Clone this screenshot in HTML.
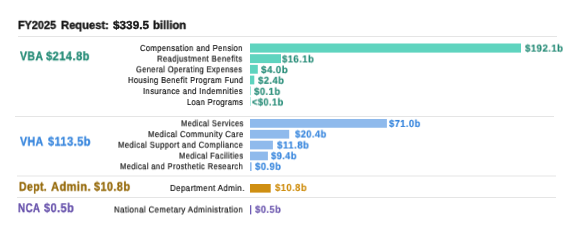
<!DOCTYPE html>
<html><head><meta charset="utf-8"><style>
html,body{margin:0;padding:0;background:#fff;width:575px;height:240px;overflow:hidden;position:relative}
.t{position:absolute;white-space:nowrap;transform-origin:0 0;line-height:1;will-change:transform;text-rendering:geometricPrecision;font-family:"Liberation Sans",sans-serif}
.b{position:absolute}
.s{position:absolute;height:1px;background:#e5e5e5}
</style></head><body>

<svg width="575" height="240" style="position:absolute;left:0;top:0"><rect x="18.00" y="36.00" width="539.00" height="1" fill="#e5e5e5"/><rect x="15.00" y="116.00" width="539.00" height="1" fill="#e5e5e5"/><rect x="17.00" y="175.50" width="539.00" height="1" fill="#e5e5e5"/><rect x="17.00" y="197.00" width="539.00" height="1" fill="#e5e5e5"/><rect x="250.00" y="43.50" width="271.00" height="9.10" fill="#5fd4bf"/><rect x="250.00" y="54.20" width="31.00" height="8.90" fill="#5fd4bf"/><rect x="250.00" y="64.85" width="7.80" height="8.85" fill="#5fd4bf"/><rect x="250.00" y="75.60" width="4.30" height="8.80" fill="#5fd4bf"/><rect x="250.00" y="86.40" width="0.60" height="8.80" fill="#5fd4bf"/><rect x="250.00" y="97.10" width="0.45" height="8.80" fill="#5fd4bf"/><rect x="250.00" y="119.00" width="136.90" height="8.75" fill="#8fbaec"/><rect x="250.00" y="129.85" width="39.20" height="8.75" fill="#8fbaec"/><rect x="250.00" y="140.70" width="22.90" height="8.70" fill="#8fbaec"/><rect x="250.00" y="151.60" width="17.90" height="8.70" fill="#8fbaec"/><rect x="250.00" y="162.30" width="1.60" height="8.70" fill="#8fbaec"/><rect x="250.00" y="184.00" width="20.70" height="8.60" fill="#cf8f12"/><rect x="250.00" y="205.20" width="1.30" height="9.20" fill="#6f5cb5"/></svg>
<div class="t" style="left:18.40px;top:19px;font-size:11.63px;font-weight:700;color:#161616;transform:matrix(0.93547,0,0,1.0000,0,0.900);-webkit-text-stroke:0.350px #161616;">FY2025</div>
<div class="t" style="left:60.90px;top:19px;font-size:11.63px;font-weight:700;color:#161616;transform:matrix(0.96275,0,0,1.0000,0,0.900);-webkit-text-stroke:0.350px #161616;">Request:</div>
<div class="t" style="left:112.70px;top:19px;font-size:11.63px;font-weight:700;color:#161616;transform:matrix(1.01472,0,0,1.0000,0,0.900);-webkit-text-stroke:0.350px #161616;">$339.5</div>
<div class="t" style="left:153.10px;top:19px;font-size:11.63px;font-weight:700;color:#161616;transform:matrix(0.97258,0,0,1.0000,0,0.900);-webkit-text-stroke:0.350px #161616;">billion</div>
<div class="t" style="left:19.90px;top:50px;font-size:12.35px;font-weight:700;color:#238a75;transform:matrix(0.84593,0,0,1.0000,0,0.200);letter-spacing:0.500px;-webkit-text-stroke:0.300px #238a75;">VBA</div>
<div class="t" style="left:45.60px;top:50px;font-size:12.35px;font-weight:700;color:#238a75;transform:matrix(0.89832,0,0,1.0000,0,0.200);letter-spacing:0.500px;-webkit-text-stroke:0.300px #238a75;">$214.8b</div>
<div class="t" style="left:20.30px;top:135px;font-size:12.65px;font-weight:700;color:#3383dc;transform:matrix(0.83742,0,0,1.0000,0,0.600);letter-spacing:0.500px;-webkit-text-stroke:0.300px #3383dc;">VHA</div>
<div class="t" style="left:47.70px;top:135px;font-size:12.65px;font-weight:700;color:#3383dc;transform:matrix(0.87033,0,0,1.0000,0,0.600);letter-spacing:0.500px;-webkit-text-stroke:0.300px #3383dc;">$113.5b</div>
<div class="t" style="left:18.70px;top:180px;font-size:12.65px;font-weight:700;color:#946808;transform:matrix(0.82379,0,0,1.0000,0,0.700);letter-spacing:0.500px;-webkit-text-stroke:0.300px #946808;">Dept.</div>
<div class="t" style="left:50.50px;top:180px;font-size:12.65px;font-weight:700;color:#946808;transform:matrix(0.87501,0,0,1.0000,0,0.700);letter-spacing:0.500px;-webkit-text-stroke:0.300px #946808;">Admin.</div>
<div class="t" style="left:94.40px;top:180px;font-size:12.65px;font-weight:700;color:#946808;transform:matrix(0.85961,0,0,1.0000,0,0.700);letter-spacing:0.500px;-webkit-text-stroke:0.300px #946808;">$10.8b</div>
<div class="t" style="left:18.40px;top:202px;font-size:12.65px;font-weight:700;color:#6853ac;transform:matrix(0.77431,0,0,1.0000,0,0.100);letter-spacing:0.500px;-webkit-text-stroke:0.300px #6853ac;">NCA</div>
<div class="t" style="left:44.40px;top:202px;font-size:12.65px;font-weight:700;color:#6853ac;transform:matrix(0.87055,0,0,1.0000,0,0.100);letter-spacing:0.500px;-webkit-text-stroke:0.300px #6853ac;">$0.5b</div>
<div class="t" style="left:140.10px;top:44px;font-size:8.72px;font-weight:400;color:#111111;transform:matrix(0.87246,0,0,1.0000,0,0.000);letter-spacing:0.450px;-webkit-text-stroke:0.180px #111111;">Compensation and Pension</div>
<div class="t" style="left:157.30px;top:54px;font-size:8.72px;font-weight:400;color:#111111;transform:matrix(0.88078,0,0,1.0000,0,0.600);letter-spacing:0.450px;-webkit-text-stroke:0.180px #111111;">Readjustment Benefits</div>
<div class="t" style="left:136.30px;top:65px;font-size:8.72px;font-weight:400;color:#111111;transform:matrix(0.85764,0,0,1.0000,0,0.300);letter-spacing:0.450px;-webkit-text-stroke:0.180px #111111;">General Operating Expenses</div>
<div class="t" style="left:127.50px;top:76px;font-size:8.72px;font-weight:400;color:#111111;transform:matrix(0.87203,0,0,1.0000,0,0.000);letter-spacing:0.450px;-webkit-text-stroke:0.180px #111111;">Housing Benefit Program Fund</div>
<div class="t" style="left:143.00px;top:87px;font-size:8.72px;font-weight:400;color:#111111;transform:matrix(0.87986,0,0,1.0000,0,0.000);letter-spacing:0.450px;-webkit-text-stroke:0.180px #111111;">Insurance and Indemnities</div>
<div class="t" style="left:186.80px;top:98px;font-size:8.72px;font-weight:400;color:#111111;transform:matrix(0.85668,0,0,1.0000,0,0.000);letter-spacing:0.450px;-webkit-text-stroke:0.180px #111111;">Loan Programs</div>
<div class="t" style="left:180.50px;top:119px;font-size:8.72px;font-weight:400;color:#111111;transform:matrix(0.85747,0,0,1.0000,0,0.300);letter-spacing:0.450px;-webkit-text-stroke:0.180px #111111;">Medical Services</div>
<div class="t" style="left:147.50px;top:130px;font-size:8.72px;font-weight:400;color:#111111;transform:matrix(0.88783,0,0,1.0000,0,0.100);letter-spacing:0.450px;-webkit-text-stroke:0.180px #111111;">Medical Community Care</div>
<div class="t" style="left:118.00px;top:140px;font-size:8.72px;font-weight:400;color:#111111;transform:matrix(0.88195,0,0,1.0000,0,0.700);letter-spacing:0.450px;-webkit-text-stroke:0.180px #111111;">Medical Support and Compliance</div>
<div class="t" style="left:178.75px;top:151px;font-size:8.72px;font-weight:400;color:#111111;transform:matrix(0.86513,0,0,1.0000,0,0.600);letter-spacing:0.450px;-webkit-text-stroke:0.180px #111111;">Medical Facilities</div>
<div class="t" style="left:120.00px;top:162px;font-size:8.72px;font-weight:400;color:#111111;transform:matrix(0.86811,0,0,1.0000,0,0.200);letter-spacing:0.450px;-webkit-text-stroke:0.180px #111111;">Medical and Prosthetic Research</div>
<div class="t" style="left:170.40px;top:183px;font-size:8.72px;font-weight:400;color:#111111;transform:matrix(0.90906,0,0,1.0000,0,0.900);letter-spacing:0.450px;-webkit-text-stroke:0.180px #111111;">Department Admin.</div>
<div class="t" style="left:113.90px;top:205px;font-size:8.72px;font-weight:400;color:#111111;transform:matrix(0.89777,0,0,1.0000,0,0.500);letter-spacing:0.450px;-webkit-text-stroke:0.180px #111111;">National Cemetary Administration</div>
<div class="t" style="left:525.00px;top:44px;font-size:10.17px;font-weight:700;color:#238a75;transform:matrix(0.94261,0,0,1.0000,0,0.600);letter-spacing:0.500px;-webkit-text-stroke:0.150px #238a75;">$192.1b</div>
<div class="t" style="left:282.00px;top:55px;font-size:10.17px;font-weight:700;color:#238a75;transform:matrix(0.92947,0,0,1.0000,0,0.400);letter-spacing:0.500px;-webkit-text-stroke:0.150px #238a75;">$16.1b</div>
<div class="t" style="left:261.25px;top:66px;font-size:10.17px;font-weight:700;color:#238a75;transform:matrix(0.95520,0,0,1.0000,0,0.100);letter-spacing:0.500px;-webkit-text-stroke:0.150px #238a75;">$4.0b</div>
<div class="t" style="left:258.25px;top:76px;font-size:10.17px;font-weight:700;color:#238a75;transform:matrix(0.92842,0,0,1.0000,0,0.800);letter-spacing:0.500px;-webkit-text-stroke:0.150px #238a75;">$2.4b</div>
<div class="t" style="left:253.75px;top:87px;font-size:10.17px;font-weight:700;color:#238a75;transform:matrix(0.93734,0,0,1.0000,0,0.800);letter-spacing:0.500px;-webkit-text-stroke:0.150px #238a75;">$0.1b</div>
<div class="t" style="left:252.00px;top:98px;font-size:10.17px;font-weight:700;color:#238a75;transform:matrix(0.90727,0,0,1.0000,0,0.500);letter-spacing:0.500px;-webkit-text-stroke:0.150px #238a75;">&lt;$0.1b</div>
<div class="t" style="left:388.75px;top:119px;font-size:10.17px;font-weight:700;color:#3383dc;transform:matrix(0.91483,0,0,1.0000,0,0.900);letter-spacing:0.500px;-webkit-text-stroke:0.150px #3383dc;">$71.0b</div>
<div class="t" style="left:294.50px;top:130px;font-size:10.17px;font-weight:700;color:#3383dc;transform:matrix(0.91483,0,0,1.0000,0,0.500);letter-spacing:0.500px;-webkit-text-stroke:0.150px #3383dc;">$20.4b</div>
<div class="t" style="left:276.75px;top:141px;font-size:10.17px;font-weight:700;color:#3383dc;transform:matrix(0.95238,0,0,1.0000,0,0.500);letter-spacing:0.500px;-webkit-text-stroke:0.150px #3383dc;">$11.8b</div>
<div class="t" style="left:271.25px;top:152px;font-size:10.17px;font-weight:700;color:#3383dc;transform:matrix(0.91056,0,0,1.0000,0,0.200);letter-spacing:0.500px;-webkit-text-stroke:0.150px #3383dc;">$9.4b</div>
<div class="t" style="left:254.50px;top:162px;font-size:10.17px;font-weight:700;color:#3383dc;transform:matrix(0.92842,0,0,1.0000,0,0.800);letter-spacing:0.500px;-webkit-text-stroke:0.150px #3383dc;">$0.9b</div>
<div class="t" style="left:275.00px;top:184px;font-size:10.17px;font-weight:700;color:#cf8f12;transform:matrix(0.92508,0,0,1.0000,0,0.000);letter-spacing:0.500px;-webkit-text-stroke:0.150px #cf8f12;">$10.8b</div>
<div class="t" style="left:254.60px;top:205px;font-size:10.17px;font-weight:700;color:#6853ac;transform:matrix(0.92485,0,0,1.0000,0,0.700);letter-spacing:0.500px;-webkit-text-stroke:0.150px #6853ac;">$0.5b</div>
</body></html>
